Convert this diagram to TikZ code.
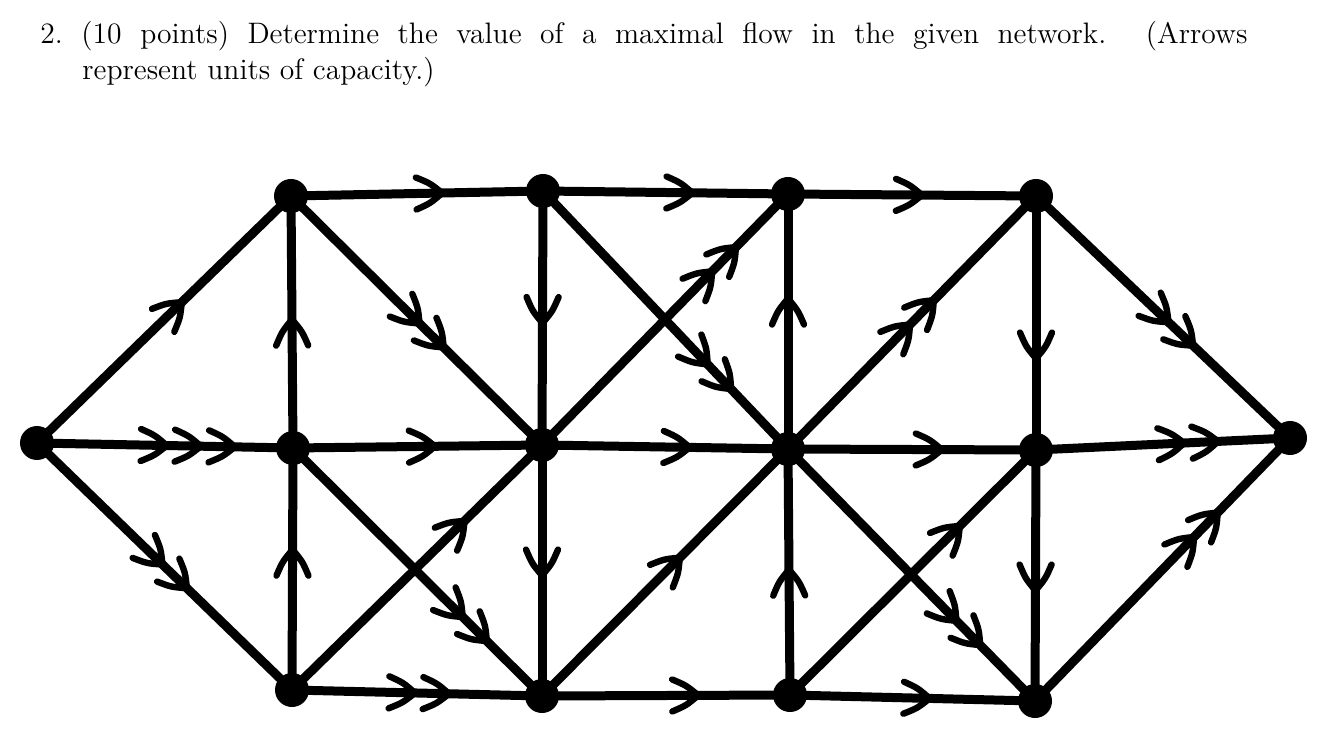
\documentclass[tikz,border=0pt]{standalone}
\usepackage{amsmath, amssymb}
\usepackage{fontspec}
\usetikzlibrary{decorations.markings}
\tikzstyle{vertex} = [circle,fill=black,inner sep=0,minimum size=17pt]
\tikzstyle{link} = [-,line width=4.5pt]
\tikzstyle{head} = [-,line width=3.2pt,line cap=round,line join=round]
\tikzstyle{words} = [anchor=base west,inner sep=0,font=\fontsize{14.8}{18}\selectfont]
\def \gap {8.5pt}
\def \chev {\draw[head] (-13pt,8pt) .. controls (-6pt,5pt) .. (0,0) .. controls (-6pt,-5pt) .. (-13pt,-8pt);}
\tikzset{
  once/.style={postaction={decorate,decoration={markings,
    mark=at position #1 with {\chev}}}},
  twice/.style={postaction={decorate,decoration={markings,
    mark=at position #1 with {\begin{scope}[xshift=-\gap]\chev\end{scope}
      \begin{scope}[xshift=\gap]\chev\end{scope}}}}},
  thrice/.style={postaction={decorate,decoration={markings,
    mark=at position #1 with {\begin{scope}[xshift=-2*\gap]\chev\end{scope}
      \chev\begin{scope}[xshift=2*\gap]\chev\end{scope}}}}}
}

\begin{document}
\begin{tikzpicture}[x=0.5pt,y=-0.5pt]
  \useasboundingbox (0,0) rectangle (1326,742);
  % question
  \node[words] (line1) at (40,44) {\makebox[603.5pt][s]{2.\ (10 points) Determine the value of a maximal flow in the given network. (Arrows}};
  \node[words] (line2) at (82,80) {represent units of capacity.)};
  % vertices
  \node[vertex] (s) at (37,443) {};
  \node[vertex] (a) at (291,196) {};
  \node[vertex] (b) at (543,191) {};
  \node[vertex] (c) at (788,194) {};
  \node[vertex] (d) at (1036,196) {};
  \node[vertex] (e) at (293,448) {};
  \node[vertex] (f) at (542,445) {};
  \node[vertex] (g) at (788,449) {};
  \node[vertex] (h) at (1036,450) {};
  \node[vertex] (t) at (1290,438) {};
  \node[vertex] (i) at (292,690) {};
  \node[vertex] (j) at (542,696) {};
  \node[vertex] (k) at (790,695) {};
  \node[vertex] (l) at (1035,701) {};
  % source
  \draw[link,once=0.57] (s.center) -- (a.center);
  \draw[link,thrice=0.64] (s.center) -- (e.center);
  \draw[link,twice=0.54] (s.center) -- (i.center);
  % top row
  \draw[link,once=0.6] (a.center) -- (b.center);
  \draw[link,once=0.61] (b.center) -- (c.center);
  \draw[link,once=0.54] (c.center) -- (d.center);
  % middle row
  \draw[link,once=0.57] (e.center) -- (f.center);
  \draw[link,once=0.6] (f.center) -- (g.center);
  \draw[link,once=0.62] (g.center) -- (h.center);
  \draw[link,twice=0.65] (h.center) -- (t.center);
  % bottom row
  \draw[link,twice=0.56] (i.center) -- (j.center);
  \draw[link,once=0.63] (j.center) -- (k.center);
  \draw[link,once=0.57] (k.center) -- (l.center);
  % upper half
  \draw[link,once=0.51] (e.center) -- (a.center);
  \draw[link,twice=0.56] (a.center) -- (f.center);
  \draw[link,once=0.52] (b.center) -- (f.center);
  \draw[link,twice=0.72] (b.center) -- (g.center);
  \draw[link,twice=0.74] (f.center) -- (c.center);
  \draw[link,once=0.59] (g.center) -- (c.center);
  \draw[link,twice=0.54] (g.center) -- (d.center);
  \draw[link,once=0.64] (d.center) -- (h.center);
  \draw[link,twice=0.57] (d.center) -- (t.center);
  % lower half
  \draw[link,once=0.58] (i.center) -- (e.center);
  \draw[link,twice=0.73] (e.center) -- (j.center);
  \draw[link,once=0.69] (i.center) -- (f.center);
  \draw[link,once=0.52] (f.center) -- (j.center);
  \draw[link,once=0.56] (j.center) -- (g.center);
  \draw[link,once=0.51] (k.center) -- (g.center);
  \draw[link,twice=0.73] (g.center) -- (l.center);
  \draw[link,once=0.69] (k.center) -- (h.center);
  \draw[link,once=0.56] (h.center) -- (l.center);
  \draw[link,twice=0.67] (l.center) -- (t.center);
\end{tikzpicture}
\end{document}
